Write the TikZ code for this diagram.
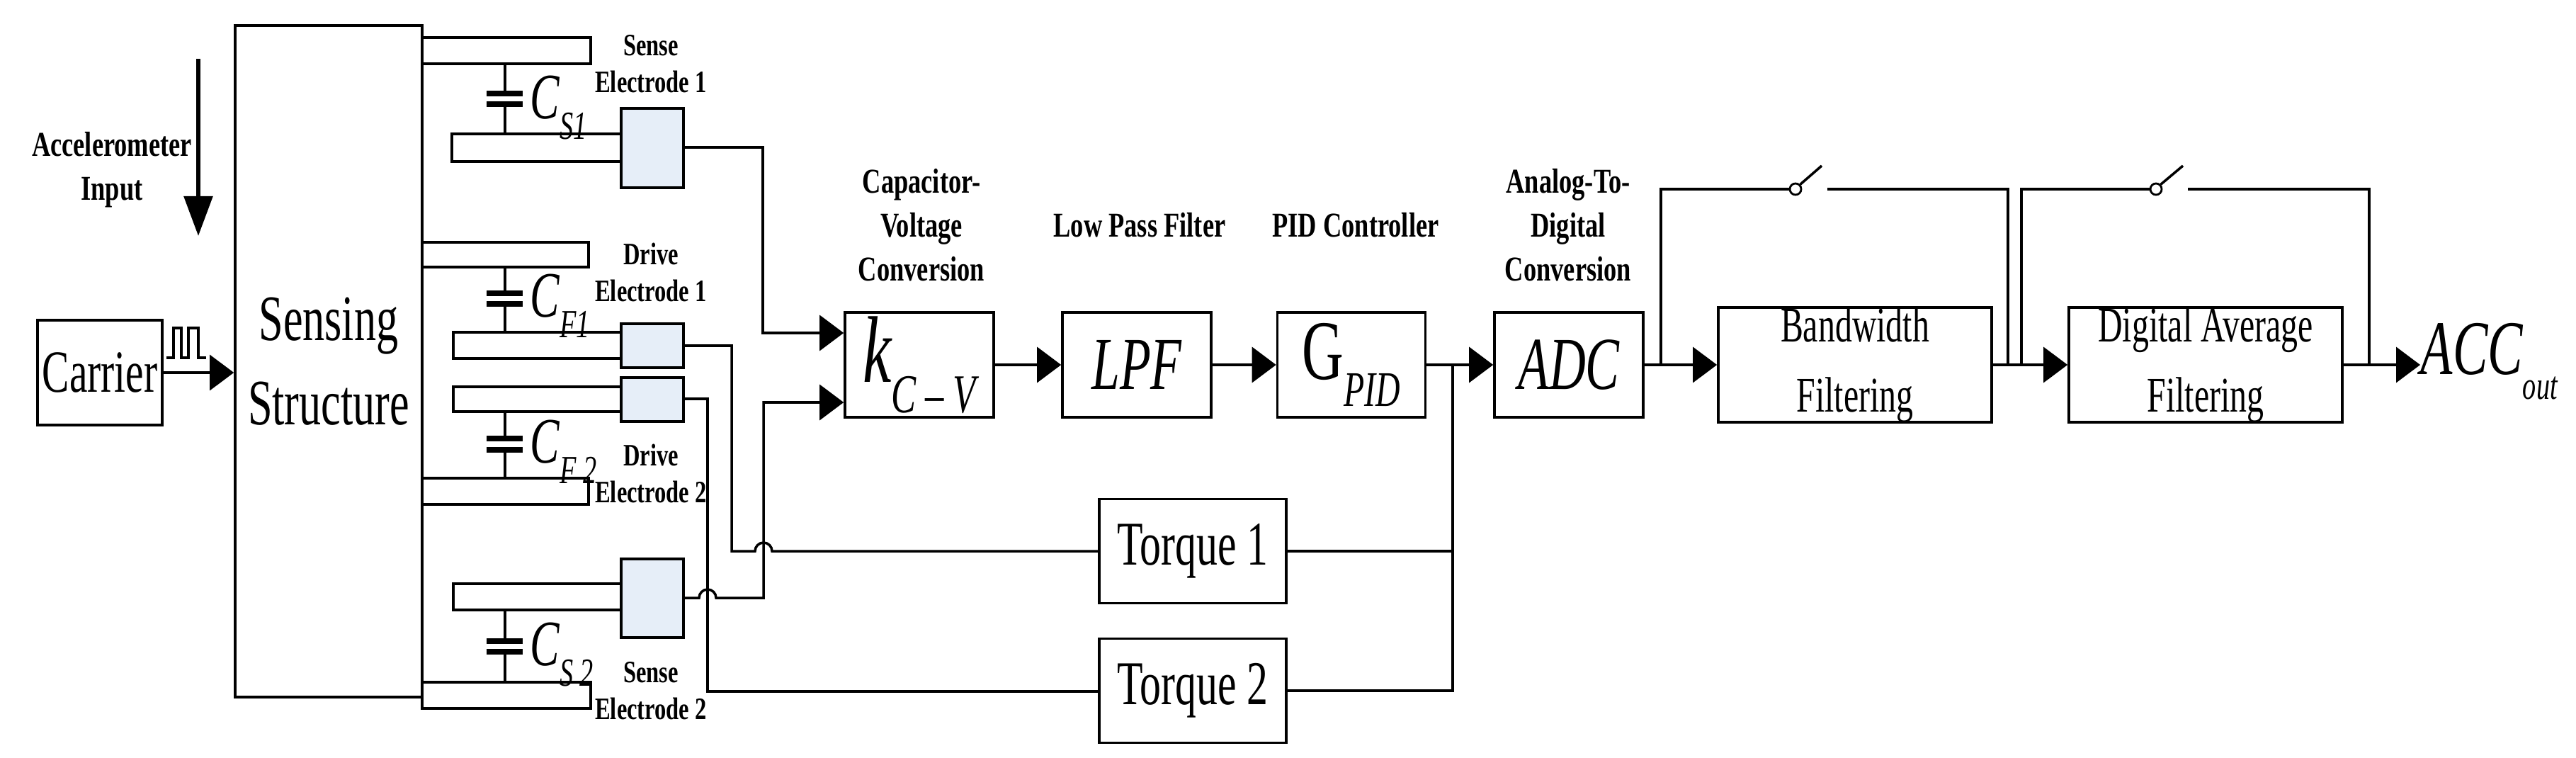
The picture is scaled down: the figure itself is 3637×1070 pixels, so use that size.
\documentclass[tikz,border=0pt]{standalone}
\usepackage{fontspec}
\setmainfont{Liberation Serif}[FakeStretch=0.68]
\newfontfamily\labfont{Liberation Serif}[FakeStretch=0.74]
\usetikzlibrary{arrows.meta}
\definecolor{elec}{RGB}{230,238,248}
\tikzset{
  ln/.style={line width=1pt},
  box/.style={draw,line width=1pt,inner sep=0pt,align=center},
  elbox/.style={draw,line width=1pt,fill=elec,minimum width=0.88cm,inner sep=0pt},
  plate/.style={draw,line width=1pt,fill=white},
  capplate/.style={line width=2.2pt},
  arr/.style={ln,-{Triangle[length=0.34cm,width=0.5cm]}},
  lab/.style={font=\labfont\bfseries\fontsize{12.5}{14.8}\selectfont,align=center,inner sep=0pt},
  lab2/.style={font=\labfont\bfseries\fontsize{14}{17.6}\selectfont,align=center,inner sep=0pt},
  capl/.style={anchor=west,inner sep=0pt,font=\fontsize{26}{26}\selectfont\itshape},
}
\newcommand{\sub}[2]{\raisebox{-0.32em}{\fontsize{#1}{#1}\selectfont #2}}
\newcommand{\hop}[2]{-- (#1-12,#2) arc[start angle=180,end angle=0,radius=0.12cm]}
\begin{document}
\begin{tikzpicture}[x=0.01cm,y=-0.01cm]
\useasboundingbox (0,0) rectangle (3637,1070);
% sensing structure
\node[box,minimum width=2.64cm,minimum height=9.47cm,font=\fontsize{26}{34}\selectfont] (sens) at (464,510) {Sensing\\Structure};
\draw[ln] (596,53) -- (596,1000);
% plates
\draw[plate] (596,53) rectangle (834,90);
\draw[plate] (638,189) rectangle (877,228);
\draw[plate] (596,342) rectangle (831,377);
\draw[plate] (640,469) rectangle (877,506);
\draw[plate] (640,546) rectangle (877,581);
\draw[plate] (596,675) rectangle (831,712);
\draw[plate] (640,824) rectangle (877,861);
\draw[plate] (596,963) rectangle (834,1000);
% capacitors
\foreach \a/\b/\c/\d in {90/132/147/189, 377/414/429/469, 581/619/635/675, 861/905/920/963}{
  \draw[ln] (713,\a) -- (713,\b);
  \draw[ln] (713,\c) -- (713,\d);
  \draw[capplate] (687,\b) -- (738,\b);
  \draw[capplate] (687,\c) -- (738,\c);
}
\node[capl] (cs1) at (748,152) {C\sub{16}{S1}};
\node[capl] (cf1) at (748,432) {C\sub{16}{F1}};
\node[capl] (cf2) at (748,638) {C\sub{16}{F 2}};
\node[capl] (cs2) at (748,924) {C\sub{16}{S 2}};
% electrodes
\node[elbox,minimum height=1.12cm] (s1) at (921,209) {};
\node[elbox,minimum height=0.62cm] (d1) at (921,488) {};
\node[elbox,minimum height=0.62cm] (d2) at (921,564) {};
\node[elbox,minimum height=1.11cm] (s2) at (921,844.5) {};
\node[lab] (ls1) at (919,90) {Sense\\Electrode 1};
\node[lab] (ld1) at (919,384) {Drive\\Electrode 1};
\node[lab] (ld2) at (919,668) {Drive\\Electrode 2};
\node[lab] (ls2) at (919,975) {Sense\\Electrode 2};
% accelerometer input
\node[lab2] (acc) at (158,240) {Accelerometer\\Input};
\coordinate (atop) at (280,83);
\coordinate (abot) at (280,333);
\draw[line width=1.6pt,-{Triangle[length=0.56cm,width=0.4cm]}] (atop) -- (abot);
% carrier
\node[box,minimum width=1.76cm,minimum height=1.48cm,font=\fontsize{24}{26}\selectfont] (car) at (141,526) {Carrier};
\draw[ln] (235,505) -- (245,505) -- (245,463) -- (256,463) -- (256,505) -- (266,505) -- (266,463) -- (280,463) -- (280,505) -- (291,505);
\draw[arr] (car.east) -- (sens.west |- car.east);
% chain boxes
\node[box,minimum width=2.10cm,minimum height=1.48cm,font=\fontsize{38}{38}\selectfont\itshape] (kcv) at (1298,515) {k\sub{22}{C\,--\,V}};
\node[box,minimum width=2.10cm,minimum height=1.48cm,font=\fontsize{30}{30}\selectfont\itshape] (lpf) at (1605,515) {LPF};
\node[box,minimum width=2.09cm,minimum height=1.48cm,font=\fontsize{34}{34}\selectfont] (pid) at (1908,515) {G\sub{20}{\itshape PID}};
\node[box,minimum width=2.10cm,minimum height=1.48cm,font=\fontsize{30}{30}\selectfont\itshape] (adc) at (2215,515) {ADC};
\node[box,minimum width=3.86cm,minimum height=1.48cm,font=\fontsize{20}{28}\selectfont] (bw) at (2619,515) {Bandwidth\\Filtering};
\node[box,minimum width=3.86cm,minimum height=1.48cm,font=\fontsize{20}{28}\selectfont] (da) at (3114,515) {Digital Average\\Filtering};
\node[box,minimum width=2.64cm,minimum height=1.47cm,font=\fontsize{25}{25}\selectfont] (t1) at (1684,778) {Torque 1};
\node[box,minimum width=2.64cm,minimum height=1.47cm,font=\fontsize{25}{25}\selectfont] (t2) at (1684,975) {Torque 2};
\node[anchor=west,inner sep=0pt,font=\fontsize{31}{31}\selectfont\itshape] (out) at (3417,510) {ACC\sub{16}{out}};
% top labels
\node[lab2] (lcv) at (1301,318) {Capacitor-\\Voltage\\Conversion};
\node[lab2] (llpf) at (1609,318) {Low Pass Filter};
\node[lab2] (lpid) at (1914,318) {PID Controller};
\node[lab2] (ladc) at (2214,318) {Analog-To-\\Digital\\Conversion};
% sensing connections
\draw[arr] (s1.east |- 0,208) -- (1077,208) -- (1077,470) -- (kcv.west |- 0,470);
\draw[arr] (s2.east |- 0,844) \hop{999}{844} -- (1078,844) -- (1078,568) -- (kcv.west |- 0,568);
\draw[ln] (d1.east) -- (1033,488) -- (1033,778) \hop{1078}{778} -- (t1.west);
\draw[ln] (d2.east |- 0,563) -- (999,563) -- (999,976) -- (t2.west |- 0,976);
% main chain
\draw[arr] (kcv) -- (lpf);
\draw[arr] (lpf) -- (pid);
\draw[arr] (pid) -- (adc);
\coordinate (j) at (2051,515);
\draw[ln] (j) -- (2051,975) -- (t2.east);
\draw[ln] (2051,778) -- (t1.east);
\draw[arr] (adc) -- (bw);
\draw[arr] (bw) -- (da);
\draw[arr] (da) -- (out.west |- da);
% bypass switches
\draw[ln] (2345,515) -- (2345,267) -- (2527,267);
\node[draw,circle,line width=0.8pt,minimum size=0.16cm,inner sep=0pt] (sw1) at (2535,267) {};
\draw[ln] (sw1.north east) -- (2572,234);
\draw[ln] (2580,267) -- (2835,267) -- (2835,515);
\draw[ln] (2854,515) -- (2854,267) -- (3036,267);
\node[draw,circle,line width=0.8pt,minimum size=0.16cm,inner sep=0pt] (sw2) at (3044,267) {};
\draw[ln] (sw2.north east) -- (3082,234);
\draw[ln] (3089,267) -- (3345,267) -- (3345,515);
\end{tikzpicture}
\end{document}
